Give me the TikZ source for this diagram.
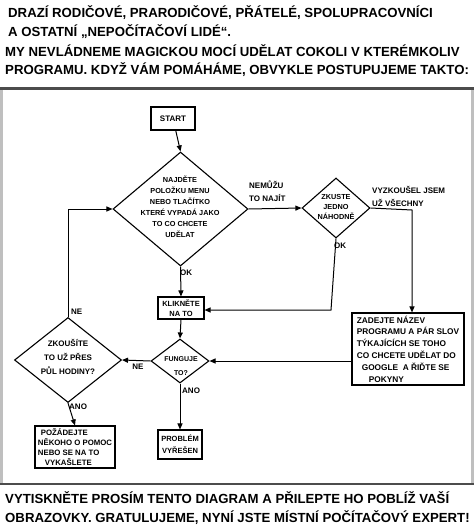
\documentclass[tikz,border=0pt]{standalone}
\usepackage{fontspec}
\setmainfont{Liberation Sans}
\usetikzlibrary{shapes.geometric,arrows.meta}
\newcommand\myfs[2]{\fontsize{#1}{#2}\selectfont}
\begin{document}
\begin{tikzpicture}[x=1pt,y=-1pt,
  boxnode/.style={draw, line width=1.1pt, inner sep=0pt, align=center, font=\bfseries\myfs{7.5}{10}},
  dianode/.style={diamond, draw, line width=1.1pt, inner sep=0pt},
  dtxt/.style={inner sep=0pt, align=center},
  lab/.style={inner sep=0pt, align=left, font=\bfseries\myfs{8}{13}},
  head/.style={inner sep=0pt, anchor=base west, font=\bfseries\myfs{13.2}{16}},
  arr/.style={line width=1pt, -{Triangle[length=6pt,width=5pt]}},
  ln/.style={line width=1pt}]
\useasboundingbox (0,0) rectangle (474,532);
\fill[white] (0,0) rectangle (474,532);
% panel frame
\draw[black!25, line width=2.6pt] (1.3,88) -- (1.3,483);
\draw[black!25, line width=2.6pt] (472.7,88) -- (472.7,483);
\draw[black!70, line width=2.2pt] (0,88.5) -- (474,88.5);
\draw[black!70, line width=2pt] (0,483.5) -- (474,483.5);
% header and footer
\node[head] (h1) at (8,18) {DRAZÍ RODIČOVÉ, PRARODIČOVÉ, PŘÁTELÉ, SPOLUPRACOVNÍCI};
\node[head] (h2) at (8,37) {A OSTATNÍ „NEPOČÍTAČOVÍ LIDÉ“.};
\node[head] (h3) at (5,57) {MY NEVLÁDNEME MAGICKOU MOCÍ UDĚLAT COKOLI V KTERÉMKOLIV};
\node[head] (h4) at (5,75) {PROGRAMU. KDYŽ VÁM POMÁHÁME, OBVYKLE POSTUPUJEME TAKTO:};
\node[head] (f1) at (5,503) {VYTISKNĚTE PROSÍM TENTO DIAGRAM A PŘILEPTE HO POBLÍŽ VAŠÍ};
\node[head] (f2) at (5,522) {OBRAZOVKY. GRATULUJEME, NYNÍ JSTE MÍSTNÍ POČÍTAČOVÝ EXPERT!};
% nodes
\node[boxnode, minimum width=44pt, minimum height=23pt, font=\bfseries\myfs{8}{10}] (start) at (173,118.5) {START};
\node[dianode, minimum width=135pt, minimum height=114pt] (d1) at (180.5,209) {};
\node[dtxt, font=\bfseries\myfs{7.3}{11}] (d1t) at (180,207) {NAJDĚTE\\POLOŽKU MENU\\NEBO TLAČÍTKO\\KTERÉ VYPADÁ JAKO\\TO CO CHCETE\\UDĚLAT};
\node[dianode, minimum width=68pt, minimum height=60pt] (d2) at (336,208) {};
\node[dtxt, font=\bfseries\myfs{7.3}{10}] (d2t) at (336,207) {ZKUSTE\\JEDNO\\NÁHODNĚ};
\node[boxnode, minimum width=46pt, minimum height=22pt] (klik) at (181,308) {KLIKNĚTE\\NA TO};
\node[dianode, minimum width=58pt, minimum height=44pt] (d3) at (180,361) {};
\node[dtxt, font=\bfseries\myfs{7}{14}] (d3t) at (181,366) {FUNGUJE\\TO?};
\node[dianode, minimum width=107pt, minimum height=85pt] (d4) at (68,360) {};
\node[dtxt, font=\bfseries\myfs{8}{14}] (d4t) at (68,357) {ZKOUŠÍTE\\TO UŽ PŘES\\PŮL HODINY?};
\node[boxnode, minimum width=112pt, minimum height=72pt, align=left, font=\bfseries\myfs{8.3}{11.8}] (zad) at (408,349)
  {ZADEJTE NÁZEV\\PROGRAMU A PÁR SLOV\\TÝKAJÍCÍCH SE TOHO\\CO CHCETE UDĚLAT DO\\\hspace*{5pt}GOOGLE\ \ A ŘIĎTE SE\\\hspace*{12pt}POKYNY};
\node[boxnode, minimum width=80pt, minimum height=42pt, align=left, font=\bfseries\myfs{7.8}{10}] (poz) at (75,447)
  {\hspace*{3pt}POŽÁDEJTE\\NĚKOHO O POMOC\\NEBO SE NA TO\\\hspace*{7pt}VYKAŠLETE};
\node[boxnode, minimum width=44pt, minimum height=29pt, font=\bfseries\myfs{7.5}{12}] (prob) at (180,444.5) {PROBLÉM\\VYŘEŠEN};
% connectors
\draw[arr] (start) -- (d1.north);
\draw[arr] (d1.east) -- (d2.west);
\coordinate (c1) at (412,210);
\draw[arr] (d2.east) -- (c1) -- (c1 |- zad.north);
\coordinate (c2) at (331,310);
\draw[arr] (d2.south) -- (c2) -- (c2 -| klik.east);
\draw[arr] (d1.south) -- (klik.north);
\draw[arr] (klik.south) -- (d3.north);
\draw[arr] (zad.west |- d3.east) -- (d3.east);
\draw[arr] (d3.west) -- (d4.east);
\draw[arr] (d4.north) |- (d1.west);
\draw[arr] (d4.south) -- (poz.north);
\draw[arr] (d3.south) -- (prob.north);
% labels
\node[lab, anchor=west] (l1) at (249,191.5) {NEMŮŽU\\TO NAJÍT};
\node[lab, anchor=west] (l2) at (372,196.5) {VYZKOUŠEL JSEM\\UŽ VŠECHNY};
\node[lab, anchor=west] (l3) at (334,246) {OK};
\node[lab, anchor=west] (l4) at (180,273) {OK};
\node[lab] (l5) at (138,367) {NE};
\node[lab, anchor=west] (l6) at (71,312) {NE};
\node[lab, anchor=west] (l7) at (69,407) {ANO};
\node[lab, anchor=west] (l8) at (182,391) {ANO};
\end{tikzpicture}
\end{document}
